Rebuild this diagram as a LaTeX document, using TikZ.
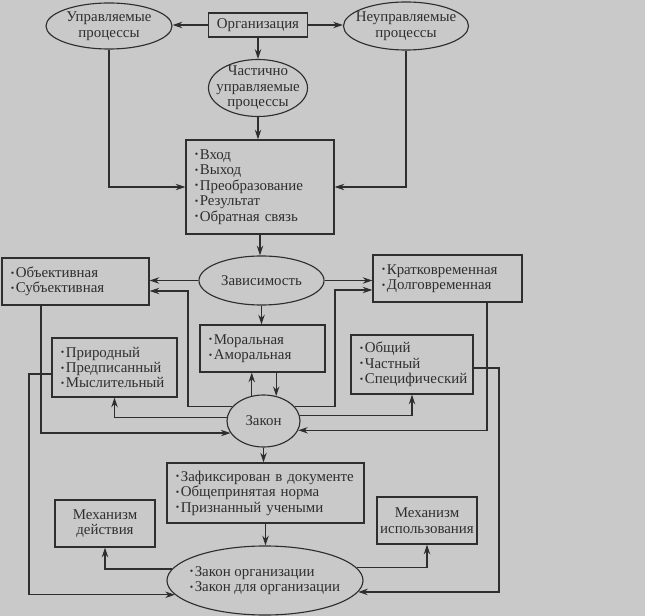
\documentclass[tikz,border=0pt]{standalone}
\usepackage{fontspec}
\setmainfont{Liberation Serif}
\usetikzlibrary{arrows.meta,calc,shapes.geometric}
\definecolor{bgray}{HTML}{C9C9C9}
\definecolor{ink}{HTML}{2E2E2E}
\newcommand\bul{\raisebox{0.2ex}{\fontsize{7}{7}\selectfont•}\kern1pt}

\begin{document}
\begin{tikzpicture}[x=0.025cm,y=-0.025cm,
  every node/.style={font=\fontsize{10.6}{11}\selectfont, text=ink},
  box/.style={draw=ink, line width=0.8pt, inner sep=0pt, align=center},
  lst/.style={draw=ink, line width=0.8pt, inner xsep=0.225cm, inner ysep=0pt, align=left, text width=#1},
  oval/.style={ellipse, draw=ink, line width=0.8pt, inner xsep=-5pt, inner ysep=-4pt, align=center},
  arr/.style={draw=ink, line width=0.8pt, -{Stealth[length=2.4mm,width=1.6mm]}}]
\path[fill=bgray, use as bounding box] (0,0) rectangle (645,616);
\node[box, minimum width=2.475cm, minimum height=0.6cm] (org) at (258,25) {Организация};
\node[oval, minimum width=3.15cm, minimum height=1.15cm] (upr) at (109,26) {Управляемые\\процессы};
\node[oval, minimum width=3.125cm, minimum height=1.2cm] (neupr) at (406,26) {Неуправляемые\\процессы};
\node[oval, minimum width=2.475cm, minimum height=1.425cm] (chast) at (258,88) {Частично\\управляемые\\процессы};
\node[lst=3.25cm, minimum height=2.35cm] (list) at (260,187) {\bul Вход\\\bul Выход\\\bul Преобразование\\\bul Результат\\\bul Обратная связь};
\node[oval, minimum width=3.125cm, minimum height=1.225cm] (zav) at (261.5,280.5) {Зависимость};
\node[lst=3.225cm, minimum height=1.175cm] (obj) at (75.5,281.5) {\bul Объективная\\\bul Субъективная};
\node[lst=3.275cm, minimum height=1.175cm] (krat) at (447.5,278.5) {\bul Кратковременная\\\bul Долговременная};
\node[lst=2.675cm, minimum height=1.175cm] (mor) at (262.5,348.5) {\bul Моральная\\\bul Аморальная};
\node[lst=2.675cm, minimum height=1.475cm] (prir) at (114.5,367.5) {\bul Природный\\\bul Предписанный\\\bul Мыслительный};
\node[lst=2.6cm, minimum height=1.475cm] (obsh) at (412,364.5) {\bul Общий\\\bul Частный\\\bul Специфический};
\node[oval, minimum width=1.825cm, minimum height=1.3cm] (zakon) at (263.5,421) {Закон};
\node[lst=4.475cm, minimum height=1.5cm] (zafix) at (265.5,493) {\bul Зафиксирован в документе\\\bul Общепринятая норма\\\bul Признанный учеными};
\node[box, minimum width=2.5cm, minimum height=1.175cm] (mdei) at (105,523.5) {Механизм\\действия};
\node[box, minimum width=2.5cm, minimum height=1.175cm] (misp) at (427,520.5) {Механизм\\использования};
\node[oval, minimum width=4.9cm, minimum height=1.725cm, align=left] (zorg) at (265,580.5) {\bul Закон организации\\\bul Закон для организации};
\coordinate (lo) at (188,291);
\coordinate (ro) at (335,290);
\coordinate (lb) at (29,594);
\coordinate (rb) at (499,591);
\draw[arr] (org.west) -- (org.west -| upr.east);
\draw[arr] (org.east) -- (org.east -| neupr.west);
\draw[arr] (org.south) -- (org.south |- chast.north);
\draw[arr] (chast.south) -- (chast.south |- list.north);
\draw[arr] (upr.south) |- (list.west);
\draw[arr] (neupr.south) |- (list.east);
\draw[arr] (list.south) -- (list.south |- zav.north);
\draw[arr] (zav.west) -- (zav.west -| obj.east);
\draw[arr] (zav.east) -- (zav.east -| krat.west);
\draw[arr] (zav.south) -- (zav.south |- mor.north);
\draw[arr] (zakon.155) -| (lo) -- (lo -| obj.east);
\draw[arr] (zakon.25) -| (ro) -- (ro -| krat.west);
\draw[arr] (zakon.115) -- (zakon.115 |- mor.south);
\draw[arr] (zakon.63 |- mor.south) -- (zakon.63);
\draw[arr] (zakon.175) -| (prir.south);
\draw[arr] (zakon.8) -| (obsh.south);
\draw[arr] ($(obj.south)+(-34.5,0)$) |- (zakon.200);
\draw[arr] ($(krat.south)+(39.5,0)$) |- (zakon.345);
\draw[arr] (zakon.south) -- (zakon.south |- zafix.north);
\draw[arr] (zafix.south) -- (zafix.south |- zorg.north);
\draw[arr] ($(prir.west)+(0,6.5)$) -| (lb) |- (zorg.189);
\draw[arr] ($(obsh.east)+(0,3.5)$) -| (rb) |- (zorg.353);
\draw[arr] (zorg.173) -| (mdei.south);
\draw[arr] (zorg.8) -| (misp.south);
\end{tikzpicture}
\end{document}
